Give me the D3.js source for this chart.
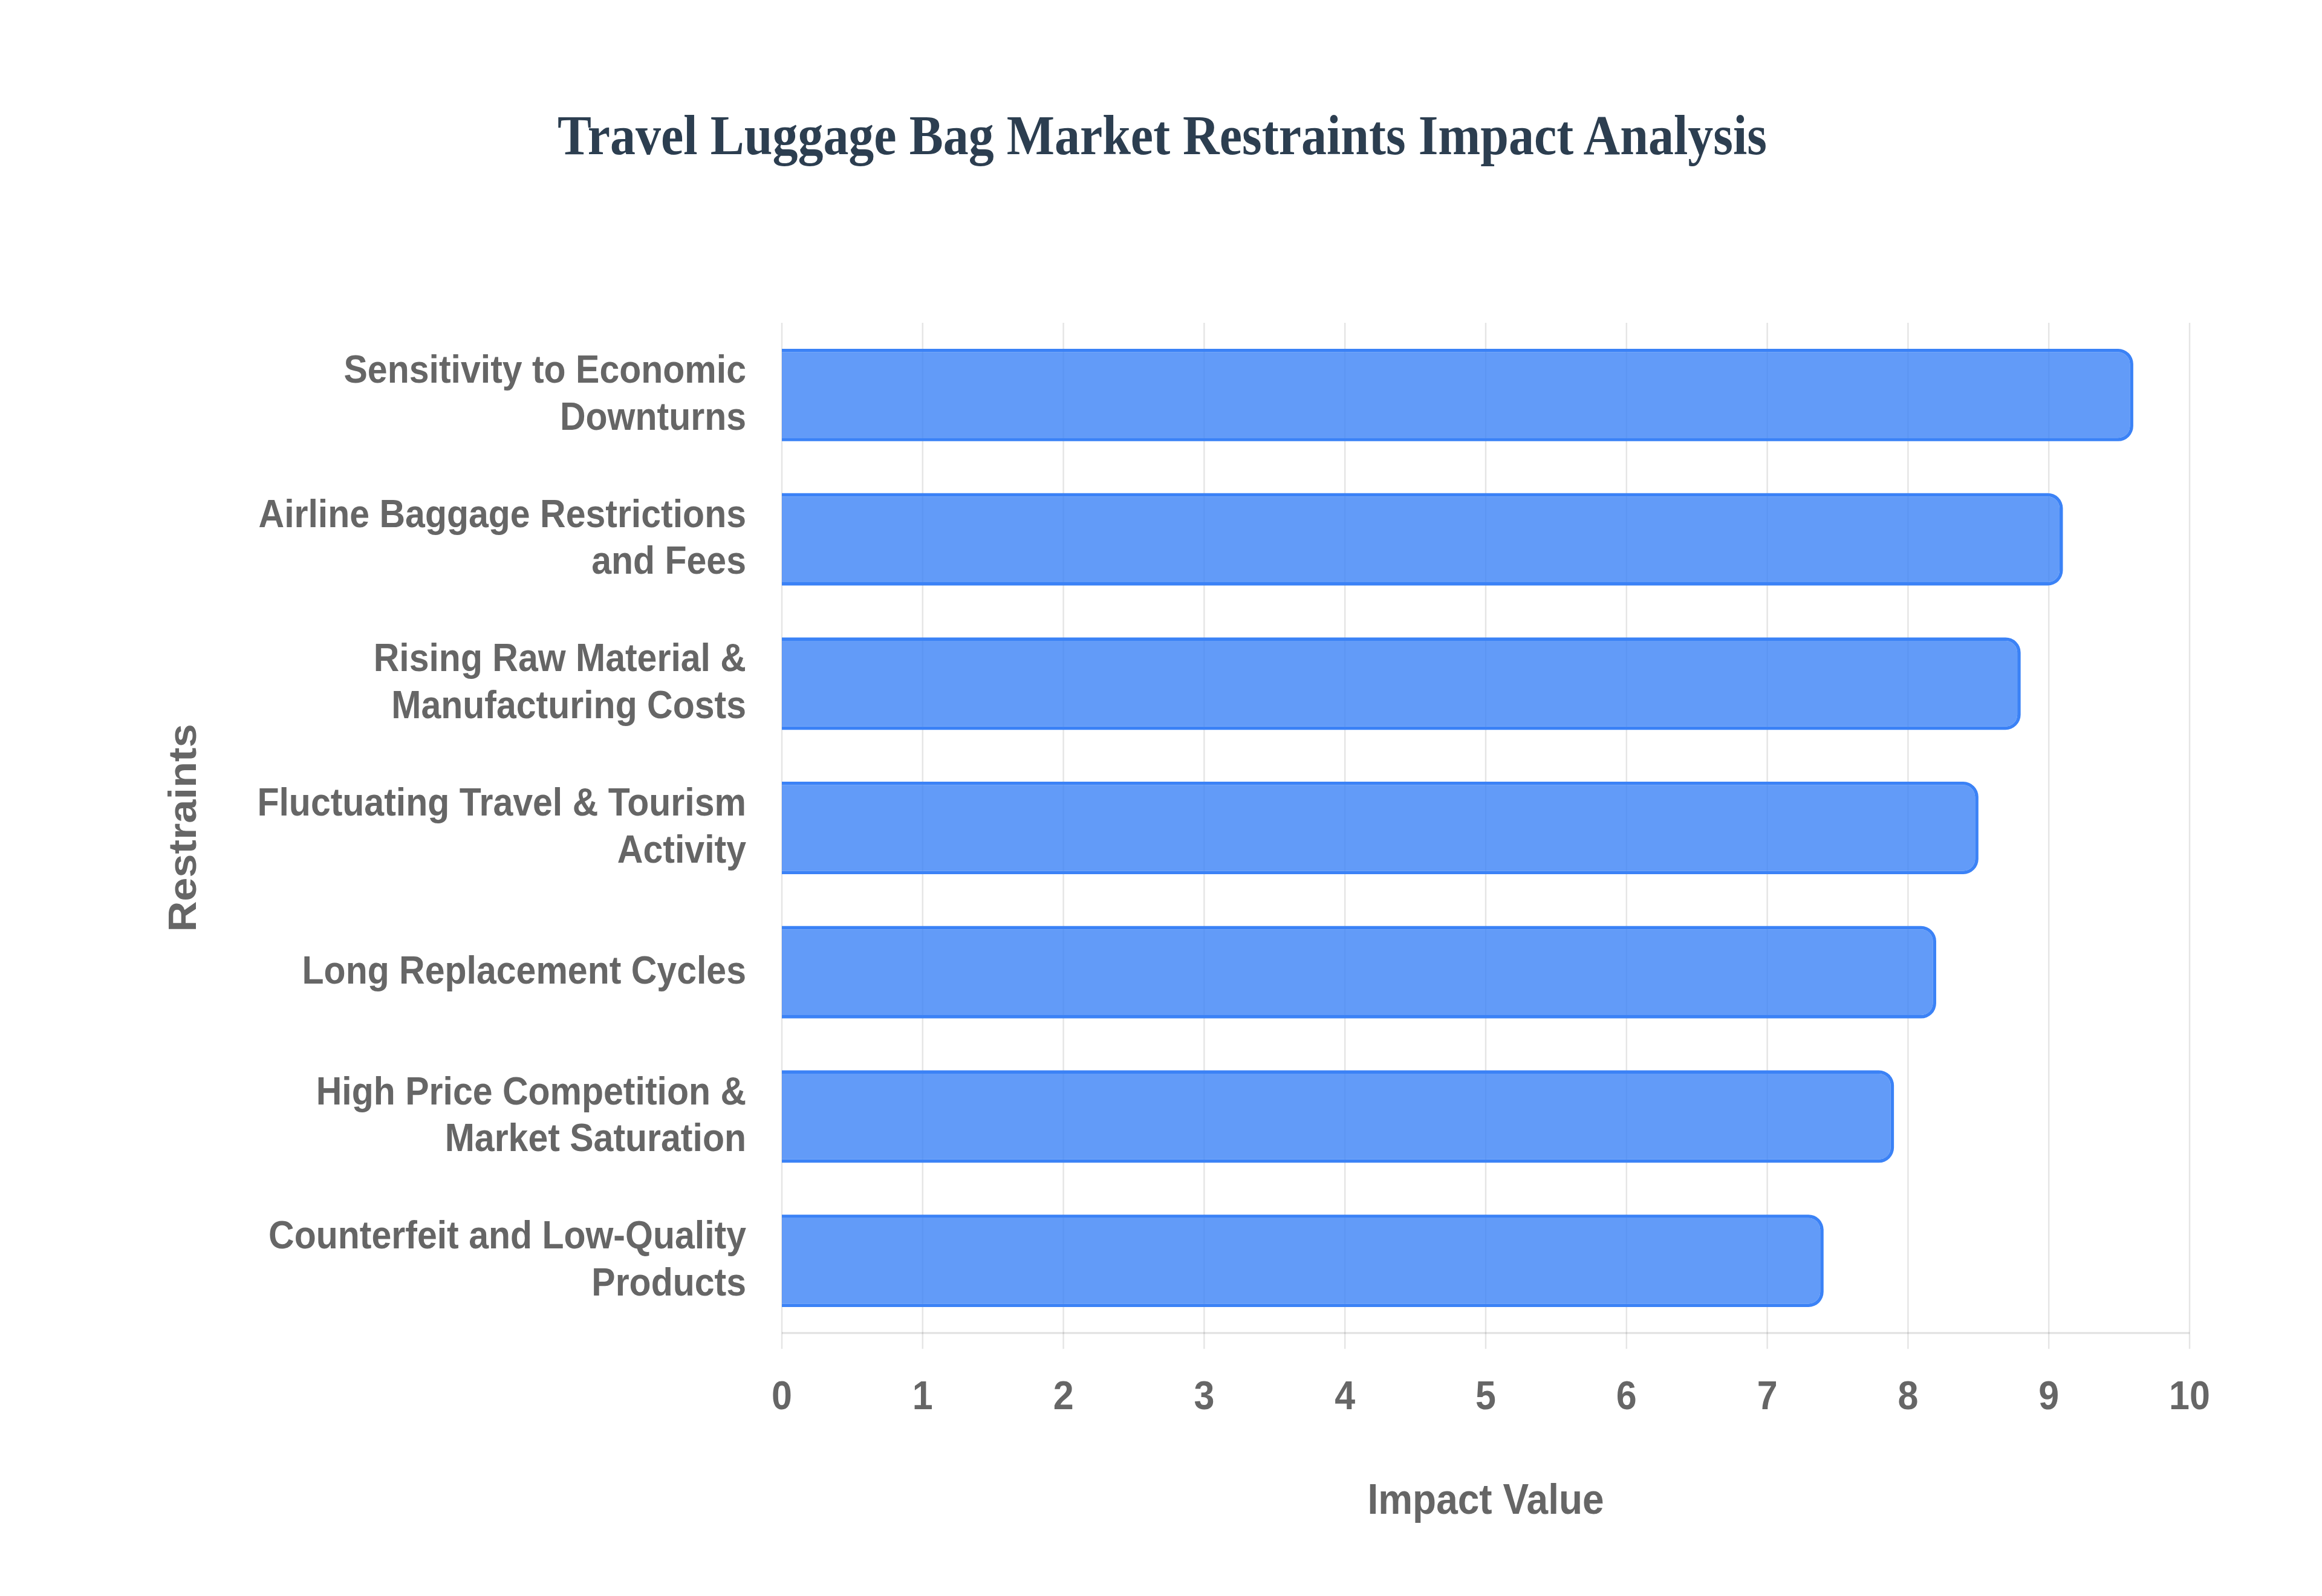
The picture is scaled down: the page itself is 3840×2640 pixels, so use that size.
<!DOCTYPE html>
<html>
<head>
<meta charset="utf-8">
<script src="https://cdn.jsdelivr.net/npm/d3@7"></script>
<style>
  html, body { margin: 0; padding: 0; background: #ffffff; }
  svg { display: block; }
</style>
</head>
<body>
<svg id="chart"></svg>
<script>
// ---------- data ----------
const categories = [
  "Sensitivity to Economic Downturns",
  "Airline Baggage Restrictions and Fees",
  "Rising Raw Material & Manufacturing Costs",
  "Fluctuating Travel & Tourism Activity",
  "Long Replacement Cycles",
  "High Price Competition & Market Saturation",
  "Counterfeit and Low-Quality Products"
];
const labelLines = [
  ["Sensitivity to Economic", "Downturns"],
  ["Airline Baggage Restrictions", "and Fees"],
  ["Rising Raw Material &", "Manufacturing Costs"],
  ["Fluctuating Travel & Tourism", "Activity"],
  ["Long Replacement Cycles"],
  ["High Price Competition &", "Market Saturation"],
  ["Counterfeit and Low-Quality", "Products"]
];
const values = [9.6, 9.1, 8.8, 8.5, 8.2, 7.9, 7.4];
const xTicks = [0, 1, 2, 3, 4, 5, 6, 7, 8, 9, 10];
const chartTitle = "Travel Luggage Bag Market Restraints Impact Analysis";
const xTitle = "Impact Value";
const yTitle = "Restraints";

// ---------- layout ----------
const W = 3840, H = 2640, VH = 2400;   // drawn in a 3840x2400 box, stretched to 2640
const SY = H / VH;
const svg = d3.select("#chart")
  .attr("width", W).attr("height", H)
  .attr("viewBox", `0 0 ${W} ${VH}`)
  .attr("preserveAspectRatio", "none");

svg.append("rect").attr("x", 0).attr("y", 0).attr("width", W).attr("height", VH).attr("fill", "#ffffff");

const plot = { left: 1293, right: 3621, top: 485.5, bottom: 2004.5 };
const x = d3.scaleLinear().domain([0, 10]).range([plot.left, plot.right]);
const y = d3.scaleBand().domain(categories).range([plot.top, plot.bottom])
  .paddingInner(0.36).paddingOuter(0.18);

const sans = "'Liberation Sans', Arial, Helvetica, sans-serif";
const serif = "'Liberation Serif', 'Times New Roman', Times, serif";
const textColor = "#666666";
const gridColor = "rgba(0,0,0,0.1)";

// ---------- grid ----------
const grid = svg.append("g");
grid.selectAll("line.v").data(xTicks).join("line")
  .attr("class", "v")
  .attr("x1", d => x(d)).attr("x2", d => x(d))
  .attr("y1", plot.top).attr("y2", plot.bottom + 24)
  .attr("stroke", gridColor).attr("stroke-width", 2.5);
grid.append("line")
  .attr("x1", plot.left).attr("x2", plot.right)
  .attr("y1", plot.bottom).attr("y2", plot.bottom)
  .attr("stroke", "rgba(0,0,0,0.12)").attr("stroke-width", 2.6);

// ---------- bars ----------
function barPath(x0, y0, w, h, r) {
  const rx = Math.max(0, Math.min(r, w)), ry = Math.max(0, Math.min(r / SY, h / 2));
  return `M${x0},${y0}H${x0 + w - rx}A${rx},${ry} 0 0 1 ${x0 + w},${y0 + ry}` +
         `V${y0 + h - ry}A${rx},${ry} 0 0 1 ${x0 + w - rx},${y0 + h}H${x0}Z`;
}
const bw = 5.5, bwy = bw / SY, radius = 25;
const bars = svg.append("g").selectAll("g").data(categories).join("g");
bars.append("path")
  .attr("fill", "rgb(59,130,246)")
  .attr("fill-rule", "evenodd")
  .attr("d", (d, i) => {
    const x0 = x(0), w = x(values[i]) - x(0), y0 = y(d), h = y.bandwidth();
    return barPath(x0, y0, w, h, radius) + barPath(x0, y0 + bwy, w - bw, h - 2 * bwy, radius - bw);
  });
bars.append("path")
  .attr("fill", "rgba(59,130,246,0.8)")
  .attr("d", (d, i) => {
    const x0 = x(0), w = x(values[i]) - x(0), y0 = y(d), h = y.bandwidth();
    return barPath(x0, y0 + bwy, w - bw, h - 2 * bwy, radius - bw);
  });

// ---------- x tick labels ----------
svg.append("g").selectAll("text").data(xTicks).join("text")
  .attr("x", d => x(d)).attr("y", 2119)
  .attr("text-anchor", "middle")
  .attr("font-family", sans).attr("font-weight", "bold").attr("font-size", 61)
  .attr("fill", textColor)
  .text(d => d);

// ---------- y labels ----------
const lineH = 70.5;
const ylab = svg.append("g").selectAll("text").data(categories).join("text")
  .attr("text-anchor", "end")
  .attr("font-family", sans).attr("font-weight", "bold").attr("font-size", 59)
  .attr("fill", textColor);
ylab.each(function (d, i) {
  const lines = labelLines[i];
  const c = y(d) + y.bandwidth() / 2;
  d3.select(this).selectAll("tspan").data(lines).join("tspan")
    .attr("x", 1234)
    .attr("y", (t, j) => c + (j - (lines.length - 1) / 2) * lineH + 16.75)
    .text(t => t);
});

// ---------- titles ----------
svg.append("text")
  .attr("x", 1922).attr("y", 232)
  .attr("text-anchor", "middle")
  .attr("font-family", serif).attr("font-weight", "bold").attr("font-size", 84)
  .attr("fill", "#2c3e50")
  .text(chartTitle);

svg.append("text")
  .attr("x", (plot.left + plot.right) / 2).attr("y", 2276)
  .attr("text-anchor", "middle")
  .attr("font-family", sans).attr("font-weight", "bold").attr("font-size", 64)
  .attr("fill", textColor)
  .text(xTitle);

svg.append("text")
  .attr("transform", `translate(324,${(plot.top + plot.bottom) / 2}) rotate(-90)`)
  .attr("text-anchor", "middle")
  .attr("font-family", sans).attr("font-weight", "bold").attr("font-size", 64)
  .attr("fill", textColor)
  .text(yTitle);
</script>
</body>
</html>
